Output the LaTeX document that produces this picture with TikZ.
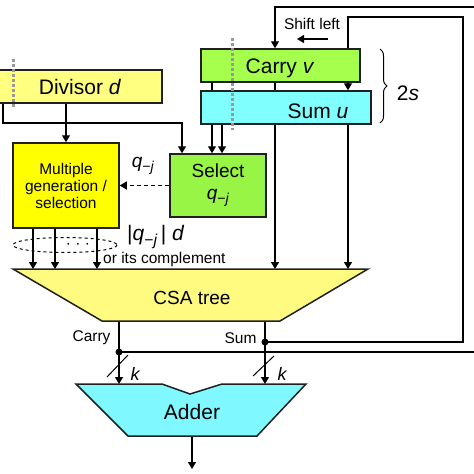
\documentclass[tikz,border=0pt]{standalone}
\usepackage{fontspec}
\setmainfont{Liberation Sans}
\usetikzlibrary{arrows.meta,decorations.pathreplacing,backgrounds}
\newcommand\myqj{\textit{q}\raisebox{-0.4ex}{\scalebox{0.75}{−\textit{j}}}}
\definecolor{divfill}{HTML}{FFFF80}
\definecolor{multfill}{HTML}{FFFF00}
\definecolor{carfill}{HTML}{A6FF4D}
\definecolor{selfill}{HTML}{99F545}
\definecolor{sumfill}{HTML}{80FFFF}
\definecolor{csafill}{HTML}{FFFA80}
\definecolor{addfill}{HTML}{80F8FF}
\definecolor{bord}{HTML}{202020}
\begin{document}
\begin{tikzpicture}[x=1pt,y=-1pt,
  box/.style={draw=bord, line width=1.5pt, inner sep=0pt},
  conn/.style={line width=1.3pt, black},
  arr/.style={conn, -{Triangle[length=7pt,width=8pt]}},
  big/.style={font=\fontsize{21}{24}\selectfont},
  mid/.style={font=\fontsize{19}{22}\selectfont},
  small/.style={font=\fontsize{15.5}{18}\selectfont},
  grayline/.style={draw=gray!80, line width=3pt, dash pattern=on 3pt off 2pt}]
\useasboundingbox (0,0) rectangle (474,474);

% boxes
\node[box, fill=divfill, minimum width=164, minimum height=33, big] (div) at (80,86.5) {Divisor \textit{d}};
\node[box, fill=multfill, minimum width=106, minimum height=85, small, align=center] (mult) at (66,185.5) {Multiple\\[-1pt]generation /\\[-1pt]selection};
\node[box, fill=selfill, minimum width=96, minimum height=63, mid, align=center] (sel) at (218,185.5) {Select\\\myqj};
\node[box, fill=carfill, minimum width=159, minimum height=33] (car) at (280.5,65.5) {};
\node[big] (cartext) at (280,68) {Carry \textit{v}};
\node[box, fill=sumfill, minimum width=170, minimum height=33] (sum) at (286,107.5) {};
\node[big] (sumtext) at (318,111) {Sum \textit{u}};

% CSA tree
\draw[box, fill=csafill] (13,269) -- (368,269) -- (280,321) -- (102,321) -- cycle;
\node[mid] (csa) at (192,298) {CSA tree};
% Adder
\draw[box, fill=addfill] (76,384) -- (162,384) -- (190,394) -- (222,384) -- (306,384) -- (257,436) -- (128,436) -- cycle;
\node[big] (adder) at (192,412) {Adder};

\coordinate (csaT) at (190,269);
\coordinate (csaC) at (119,321);
\coordinate (csaS) at (265,321);
\coordinate (addC) at (119,384);
\coordinate (addS) at (265,384);
\coordinate (addB) at (192,436);
\coordinate (outE) at (192,469);
\coordinate (carryjoin) at (119,352);
\coordinate (sumjoin) at (265,342);
\coordinate (shA) at (328,39);
\coordinate (shB) at (297,39);

\begin{pgfonlayer}{background}
\draw[arr] (3,0 |- div.south) |- (182,123) -- (182,0 |- sel.north);
\draw[arr] (66,0 |- div.south) -- (66,0 |- mult.north);
\draw[arr] (212,0 |- car.south) -- (212,0 |- sel.north);
\draw[arr] (222,0 |- sum.south) -- (222,0 |- sel.north);
\draw[arr, dash pattern=on 4pt off 3pt] (sel.west) -- (mult.east);
\foreach \x in {33,55,97} \draw[arr] (\x,0 |- mult.south) -- (\x,0 |- csaT);
\draw[arr] (carryjoin) -- (477,352) -- (477,7) -- (275,7) -- (275,0 |- car.north);
\draw[arr] (275,0 |- car.south) -- (275,0 |- csaT);
\draw[arr] (sumjoin) -- (463,342) -- (463,17) -- (348,17) -- (348,0 |- sum.north);
\draw[arr] (348,0 |- sum.south) -- (348,0 |- csaT);
\draw[arr] (csaC) -- (addC);
\draw[arr] (csaS) -- (addS);
\draw[arr] (addB) -- (outE);
\draw[arr] (shA) -- (shB);
\end{pgfonlayer}

\fill (carryjoin) circle (3.5);
\fill (sumjoin) circle (3.5);
\draw[conn, line width=1pt] (107,377) -- (128,355);
\draw[conn, line width=1pt] (253,376) -- (274,356);
\node[font=\fontsize{18}{20}\selectfont\itshape] (k1) at (135,374) {k};
\node[font=\fontsize{18}{20}\selectfont\itshape] (k2) at (282,374) {k};
\node[small, anchor=east] (lc) at (114,338) {Carry};
\node[small, anchor=east] (ls) at (260,338) {Sum};

% gray dotted lines
\draw[grayline] (13,59) -- (13,108);
\draw[grayline] (232,38) -- (232,130);

% labels
\node[small] (shl) at (312,24) {Shift left};
\draw[line width=1pt, decorate, decoration={brace, amplitude=7pt}] (380,49) -- (380,123);
\node[big] (two) at (408,93) {2\textit{s}};
\node[mid] (ql) at (143,166) {\myqj};
\draw[dashed, line width=1pt] (65,245) ellipse [x radius=52, y radius=7.5];
\node[small] (dots) at (78,246) {· · ·};
\node[big, anchor=west, inner sep=0pt] (qd) at (127,237) {|\myqj\,| \textit{d}};
\node[small, anchor=west, inner sep=0pt] (comp) at (103,259) {or its complement};
\end{tikzpicture}
\end{document}
